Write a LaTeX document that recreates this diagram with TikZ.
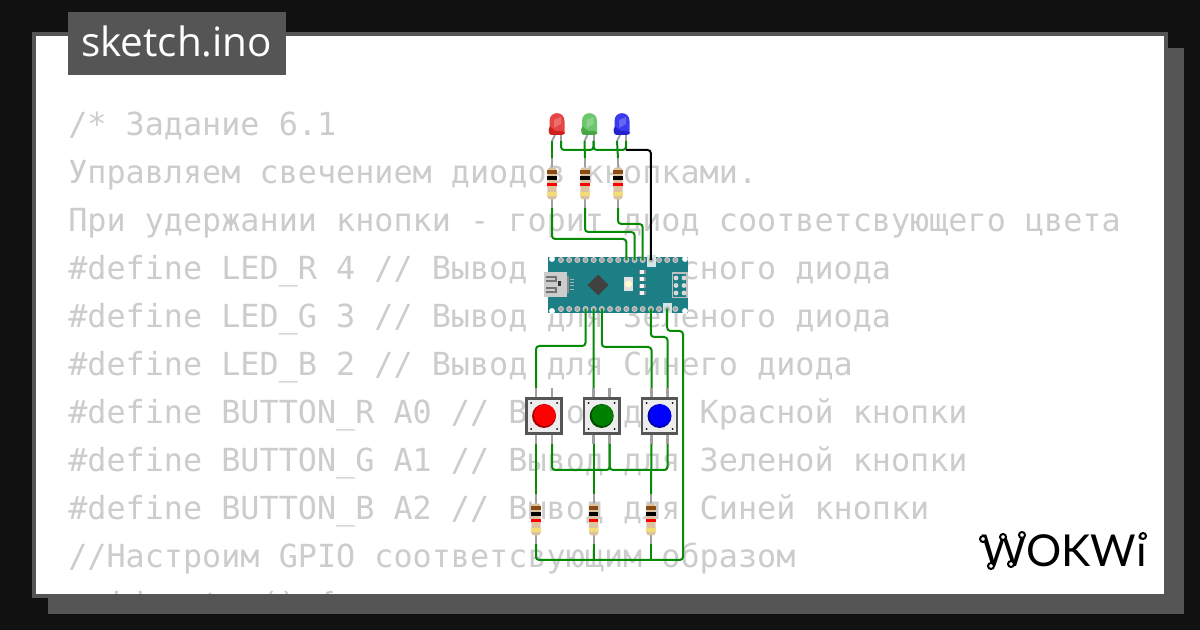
\documentclass[tikz,border=0pt]{standalone}
\usepackage{fontspec}
\newfontfamily\codefont{DejaVu Sans Mono}
\newfontfamily\titlefont{Open Sans}
\newfontfamily\logofont{Lato}
\definecolor{pagedark}{HTML}{111111}
\definecolor{framegray}{HTML}{555555}
\definecolor{codegray}{HTML}{CCCCCC}
\definecolor{nanoteal}{HTML}{1C7F86}
\definecolor{wiregreen}{HTML}{078A07}
\definecolor{restan}{HTML}{DCC3A0}
\definecolor{resbrown}{HTML}{8B4A16}
\definecolor{resgold}{HTML}{F3DC78}
\definecolor{legray}{HTML}{A0A0A0}
\definecolor{ledredbody}{HTML}{E64545}
\definecolor{ledredbase}{HTML}{CF2020}
\definecolor{ledgreenbody}{HTML}{6CC76C}
\definecolor{ledgreenbase}{HTML}{45A845}
\definecolor{ledbluebody}{HTML}{3A3AF0}
\definecolor{ledbluebase}{HTML}{2222CC}
\begin{document}
\begin{tikzpicture}[
    x=0.75pt, y=-0.75pt,
    codeline/.style={anchor=base west, inner sep=0, text=codegray, font=\codefont\fontsize{23.84}{24}\selectfont},
    wire/.style={draw=wiregreen, line width=1.5pt, rounded corners=2.4pt},
    wireblack/.style={draw=black, line width=1.5pt, rounded corners=2.4pt},
    lead/.style={draw=legray, line width=1.5pt},
    resbody/.style={draw=none, fill=restan, rounded corners=2.2pt, minimum width=7pt, minimum height=24pt, inner sep=0},
    btnbox/.style={draw=framegray, fill=black!7, line width=1.8pt, minimum size=26.5pt, inner sep=0},
    nanobody/.style={draw=none, fill=nanoteal, minimum width=105pt, minimum height=42pt, inner sep=0},
    pinhole/.style={circle, draw=black!20, fill=black!35, line width=0.6pt, minimum size=3.8pt, inner sep=0},
    cornerhole/.style={circle, fill=white, minimum size=4.4pt, inner sep=0}
    ]
    \useasboundingbox (0,0) rectangle (1200,630);
    \fill[pagedark] (0,0) rectangle (1200,630);

    % Frame and panel
    \fill[framegray] (48,48) rectangle (1184,614);
    \fill[framegray] (32,32) rectangle (1168,598);
    \fill[white] (36,36) rectangle (1164,594);

    % Code lines
    \begin{scope}
    \clip (36,36) rectangle (1164,594);
    \foreach \codetext [count=\i] in {
        {/* Задание 6.1},
        {Управляем свечением диодов кнопками.},
        {При удержании кнопки - горит диод соответсвующего цвета},
        {\#define LED\_R 4 // Вывод для Красного диода},
        {\#define LED\_G 3 // Вывод для Зеленого диода},
        {\#define LED\_B 2 // Вывод для Синего диода},
        {\#define BUTTON\_R A0 // Вывод для Красной кнопки},
        {\#define BUTTON\_G A1 // Вывод для Зеленой кнопки},
        {\#define BUTTON\_B A2 // Вывод для Синей кнопки},
        {//Настроим GPIO соответсвующим образом},
        {void setup() \{}}
        \node[codeline] (code\i) at (68,{87.5+48*\i}) {\codetext};
    \end{scope}

    % Title tab
    \fill[framegray] (68,12) rectangle (286,75);
    \node[anchor=base west, inner sep=0, text=white, font=\titlefont\fontsize{30.3}{30}\selectfont] (title) at (81,57) {sketch.ino};

    % LEDs
    \foreach \n/\cx/\ledbody/\ledbase in {r/557/ledredbody/ledredbase, g/589.5/ledgreenbody/ledgreenbase, b/622/ledbluebody/ledbluebase} {
        \draw[lead] ({\cx-2},135) -- ({\cx-5},141) coordinate (led\n-a);
        \draw[lead] ({\cx+4},134) -- ({\cx+4},141) coordinate (led\n-c);
        \fill[\ledbody] ({\cx-7.5},132) -- ({\cx-7.5},121) .. controls ({\cx-7.5},110.5) and ({\cx+7.5},110.5) .. ({\cx+7.5},121) -- ({\cx+7.5},134) -- ({\cx-4},134) -- cycle;
        \fill[\ledbase, rounded corners=2pt] ({\cx-8.5},127) -- ({\cx-5},127) -- ({\cx-3},131) -- ({\cx+7.5},131) -- ({\cx+7.5},135) -- ({\cx-8},135) -- cycle;
        \fill[white, opacity=0.22] ({\cx-3},120) -- ({\cx+4},117) -- ({\cx+4},124) -- ({\cx-3},128) -- cycle;
    }

    % Resistors, upper and lower row
    \foreach \n/\cx/\cy in {rt1/552/183.5, rt2/585/183.5, rt3/618/183.5, rb1/536/519.5, rb2/593.7/519.5, rb3/651/519.5} {
        \draw[lead] (\cx,{\cy-25.5}) coordinate (\n-a) -- (\cx,{\cy+24.5}) coordinate (\n-b);
        \node[resbody] (\n) at (\cx,\cy) {};
        \fill[resbrown] ({\cx-4.6},{\cy-13}) rectangle ({\cx+4.6},{\cy-9.5});
        \fill[black] ({\cx-4.6},{\cy-7}) rectangle ({\cx+4.6},{\cy-3});
        \fill[red] ({\cx-4.6},{\cy-0.5}) rectangle ({\cx+4.6},{\cy+3});
        \fill[resgold] ({\cx-4.6},{\cy+9}) rectangle ({\cx+4.6},{\cy+12.5});
    }

    % Nano board
    \node[nanobody] (nano) at (618,285) {};
    \foreach \hx in {552,685} \foreach \hy in {259,311}
        \node[cornerhole] (hole\hx\hy) at (\hx,\hy) {};
    \fill[white!80!nanoteal] (646.5,255) rectangle (655.5,267);
    \fill[white!80!nanoteal] (663,303) rectangle (671.5,313);
    \foreach \k in {0,...,14} {
        \node[pinhole] (nano-t\k) at ({561+8.17*\k},260) {};
        \node[pinhole] (nano-b\k) at ({561+8.17*\k},309) {};
    }
    % USB socket
    \fill[black!20] (544,272) rectangle (567,297);
    \draw[black!55, line width=0.9pt] (546,277) -- (556,277) -- (556,281) -- (546,281);
    \draw[black!55, line width=0.9pt] (546,288) -- (556,288) -- (556,292) -- (546,292);
    \fill[black!80] (558,281.5) rectangle (561,286.5);
    \fill[black!45] (567,276) rectangle (568.5,293);
    \foreach \hy in {279,282,285.5,289}
        \fill[black!30] (569.5,\hy) rectangle (574,{\hy+1});
    % Chip, reset button, small parts
    \fill[black!75] (598,274.5) -- (608.5,285) -- (598,295.5) -- (587.5,285) -- cycle;
    \fill[black!12] (623.5,277) rectangle (633,291);
    \fill[yellow!20!white] (628.5,284) circle (3.5);
    \foreach \hy in {272,279,286,293} {
        \fill[black!45] (638.5,{\hy-1.5}) rectangle (645.5,{\hy+2.5});
        \fill[black!5] (640,{\hy-1.5}) rectangle (644,{\hy+2.5});
    }
    \draw[black!25, line width=0.9pt] (672.5,273) rectangle (687,297.5);
    \foreach \hx in {676,684} \foreach \hy in {278,285.5,293}
        \fill[black!15] (\hx,\hy) circle (2.4);

    % Push buttons
    \foreach \i/\cx/\capc/\capd in {1/544/red/{red!65!black}, 2/601.7/{green!50!black}/{green!30!black}, 3/659.5/blue/{blue!65!black}} {
        \draw[legray, line width=2.2pt] ({\cx-8},388) coordinate (btn\i-a) -- ({\cx-8},397);
        \draw[legray, line width=2.2pt] ({\cx+8},388) coordinate (btn\i-b) -- ({\cx+8},397);
        \draw[legray, line width=2.2pt] ({\cx-8},435) -- ({\cx-8},444) coordinate (btn\i-c);
        \draw[legray, line width=2.2pt] ({\cx+8},435) -- ({\cx+8},444) coordinate (btn\i-d);
        \node[btnbox] (btn\i) at (\cx,416) {};
        \foreach \dx in {-13,13} \foreach \dy in {-13,13}
            \fill[black] ({\cx+\dx},{416+\dy}) circle (1);
        \fill[\capd] (\cx,416) circle (12);
        \fill[\capc] ({\cx+0.8},415.2) circle (10.8);
    }

    % LED wires
    \draw[wire] (ledr-a) -- (rt1-a);
    \draw[wire] (ledg-a) -- (rt2-a);
    \draw[wire] (ledb-a) -- (rt3-a);
    \coordinate (ledbus) at (626,150);
    \draw[wire] (ledr-c) -- ++(0,9) -| (ledg-c);
    \draw[wire] (ledg-c) -- ++(0,9) -| (ledb-c);
    \draw[wire] (ledb-c) -- (ledbus);
    \draw[wireblack] (ledbus) -| (nano-t11.center);
    \draw[wire] (rt1-b) -- ++(0,31) -| (nano-t8.center);
    \draw[wire] (rt2-b) -- ++(0,24) -| (nano-t9.center);
    \draw[wire] (rt3-b) -- ++(0,16) -| (nano-t10.center);

    % Button wires
    \draw[wire] (nano-b3.center) -- ++(0,37) -| (btn1-a);
    \draw[wire] (nano-b4.center) -- (btn2-a);
    \draw[wire] (nano-b5.center) -- ++(0,38) -| (btn3-a);
    \draw[wire] (nano-b11.center) -- ++(0,28) -| (btn3-b);
    \draw[wire] (btn1-c) -- (rb1-a);
    \draw[wire] (btn2-c) -- (rb2-a);
    \draw[wire] (btn3-c) -- (rb3-a);
    \draw[wire] (btn1-d) -- ++(0,26) -| (btn2-d);
    \draw[wire] (btn2-d) -- ++(0,26) -| (btn3-d);

    % Ground bus
    \coordinate (gndbus) at (683,560);
    \draw[wire] (nano-b13.center) -- ++(0,22) -| (gndbus) -| (rb1-b);
    \draw[wire] (rb2-b) -- (rb2-b |- gndbus);
    \draw[wire] (rb3-b) -- (rb3-b |- gndbus);

    % Logo
    \node[inner sep=0, font=\logofont\fontsize{33}{33}\selectfont] (wokwi) at (1064,551) {WOKWi};
    \foreach \rx/\ry in {983/539, 991/566, 1003/537, 1011/564, 1022/535, 1143/536}
        \draw[black, fill=white, line width=1.5pt] (\rx,\ry) circle (3);
\end{tikzpicture}
\end{document}
